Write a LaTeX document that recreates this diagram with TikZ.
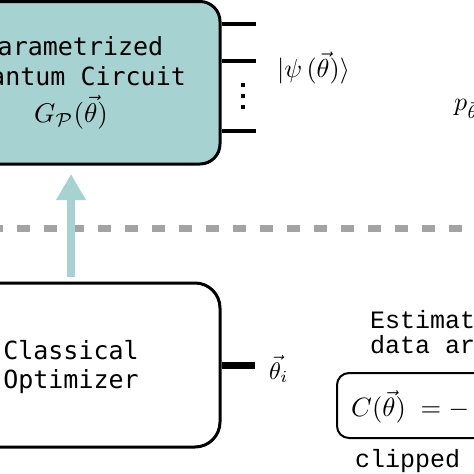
\documentclass[tikz,border=0pt]{standalone}
\usepackage{fontspec}
\usepackage{graphicx}
\setmonofont{DejaVu Sans Mono}
\newfontfamily\thinmono{Liberation Mono}
\usetikzlibrary{arrows.meta}
\definecolor{qteal}{RGB}{166,211,210}
\definecolor{dashgray}{RGB}{163,163,163}
\tikzset{
  boxstyle/.style={draw=black, line width=3pt, inner sep=0pt},
  labeltext/.style={font=\ttfamily\fontsize{25}{29}\selectfont, inner sep=0pt, anchor=base},
  thintext/.style={font=\thinmono\fontsize{25}{29}\selectfont, inner sep=0pt, anchor=base west},
  wire/.style={draw=black, line width=3.5pt},
  mathlbl/.style={inner sep=0pt, anchor=base west, font=\fontsize{10}{12}\selectfont},
}
\begin{document}
\begin{tikzpicture}[x=1pt,y=-1pt]
\useasboundingbox (0,0) rectangle (474,474);
\clip (0,0) rectangle (474,474);
\fill[white] (0,0) rectangle (474,474);

% dashed separator
\draw[dashgray, line width=7pt, dash pattern=on 13pt off 14pt] (-10,228) -- (490,228);

% quantum circuit box
\node[boxstyle, fill=qteal, rounded corners=20pt, minimum width=296pt, minimum height=162.5pt] (qc) at (72,82.75) {};
\node[labeltext] (qct1) at (73,55) {Parametrized};
\node[labeltext] (qct2) at (73,85) {Quantum Circuit};
\node[inner sep=0pt, anchor=base, font=\fontsize{10}{12}\selectfont] (qcg) at (71,122) {\scalebox{2.7}{$G_{\mathcal{P}}(\vec{\theta})$}};

% output wires
\coordinate (w1) at (256,24);
\coordinate (w2) at (256,61);
\coordinate (w3) at (256,131);
\draw[wire] (qc.east |- w1) -- (w1);
\draw[wire] (qc.east |- w2) -- (w2);
\draw[wire] (qc.east |- w3) -- (w3);
\fill[black] (241,83) rectangle (245,87);
\fill[black] (241,94) rectangle (245,98);
\fill[black] (241,105) rectangle (245,109);

\node[mathlbl] (psi) at (277,77) {\scalebox{2.6}{$|\psi\,(\vec{\theta})\rangle$}};
\node[mathlbl] (pth) at (454,110) {\scalebox{2.6}{$p_{\vec{\theta}}$}};

% classical optimizer box
\node[boxstyle, fill=white, rounded corners=25pt, minimum width=298pt, minimum height=164pt] (ob) at (71,365) {};
\node[labeltext] (obt1) at (71,359) {Classical};
\node[labeltext] (obt2) at (71,388) {Optimizer};

% update arrow
\coordinate (abot) at (71,277);
\coordinate (atop) at (71,174);
\draw[qteal, line width=8pt, -{Triangle[width=28pt,length=26pt]}] (abot) -- (atop);

% parameter output
\coordinate (pend) at (255,365);
\draw[black, line width=7pt] (ob.east |- pend) -- (pend);
\node[mathlbl] (thi) at (269,379) {\scalebox{2.4}{$\vec{\theta}_i$}};

% estimation text and cost box
\node[thintext] (est1) at (370,328) {Estimat};
\node[thintext] (est2) at (370,353) {data ar};
\node[draw=black, line width=2pt, rounded corners=12pt, minimum width=180pt, minimum height=65pt, inner sep=0pt] (cbox) at (427,405.5) {};
\node[mathlbl] (cost) at (351,416) {\scalebox{2.65}{$C(\vec{\theta})\; = -\sum$}};
\node[thintext] (clip) at (355,467) {clipped};
\end{tikzpicture}
\end{document}
